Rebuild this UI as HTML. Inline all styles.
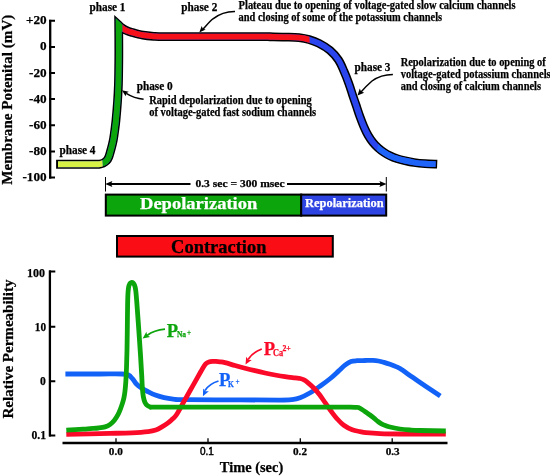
<!DOCTYPE html>
<html><head><meta charset="utf-8"><title>Cardiac action potential and ion permeability</title>
<style>
html,body{margin:0;padding:0;background:#fff;}
svg{display:block;}
text{font-family:"Liberation Serif","Times New Roman",serif;font-weight:bold;fill:#000;stroke:#000;stroke-width:0.25px;}
text.nostroke{stroke:none;}
text.sans{font-family:"Liberation Sans",Arial,sans-serif;}
</style></head>
<body>
<svg width="550" height="476" viewBox="0 0 550 476">
<defs>
  <clipPath id="cYel"><polygon points="0,150 101.6,150 103.2,172 0,172"/></clipPath>
  <clipPath id="cGrn"><polygon points="90,0 122.3,0 122.3,172 103.2,172 101.6,150"/></clipPath>
  <clipPath id="cLb"><polygon points="379,140 450,140 450,175 372,175"/></clipPath>
  <clipPath id="cRed"><polygon points="122.3,0 309.3,0 309.3,34 309.8,45 309.8,60 122.3,60"/></clipPath>
</defs>

<!-- ===== TOP CHART ===== -->
<path d="M50.2,19.8 V178.6" stroke="#000" stroke-width="2.3" fill="none"/>
<path d="M49,20.8 H55 M49,46.9 H55 M49,73 H55 M49,99.1 H55 M49,125.3 H55 M49,151.4 H55 M49,177.5 H55" stroke="#000" stroke-width="2" fill="none"/>
<g font-size="13.2" text-anchor="end">
  <text x="46.6" y="24.3">+20</text>
  <text x="46.6" y="50.4">0</text>
  <text x="46.6" y="76.5">-20</text>
  <text x="46.6" y="102.6">-40</text>
  <text x="46.6" y="128.8">-60</text>
  <text x="46.6" y="154.9">-80</text>
  <text x="46.6" y="181.0">-100</text>
</g>
<text font-size="15" transform="translate(12.3,184.7) rotate(-90)" textLength="170" lengthAdjust="spacingAndGlyphs">Membrane Potenital (mV)</text>

<!-- action potential curve -->
<path d="M56.1,164.25 L99,164.25  C99.67,164.07 101.75,163.77 103.00,163.20 C104.25,162.62 105.53,161.83 106.50,160.80 C107.47,159.77 108.12,158.63 108.80,157.00 C109.48,155.37 110.03,153.00 110.60,151.00 C111.17,149.00 111.72,147.00 112.20,145.00 C112.68,143.00 113.07,141.50 113.50,139.00 C113.93,136.50 114.38,133.17 114.80,130.00 C115.22,126.83 115.55,124.67 116.00,120.00 C116.45,115.33 117.10,107.83 117.50,102.00 C117.90,96.17 118.18,92.00 118.40,85.00 C118.62,78.00 118.73,67.50 118.80,60.00 C118.87,52.50 118.82,45.83 118.80,40.00 C118.78,34.17 118.72,27.50 118.70,25.00  C119.17,25.43 120.28,26.72 121.50,27.60 C122.72,28.48 124.25,29.50 126.00,30.30 C127.75,31.10 129.17,31.58 132.00,32.40 C134.83,33.22 139.33,34.55 143.00,35.20 C146.67,35.85 150.33,36.07 154.00,36.30 C157.67,36.53 157.33,36.55 165.00,36.60 C172.67,36.65 185.83,36.60 200.00,36.60 C214.17,36.60 238.33,36.58 250.00,36.60 C261.67,36.62 263.67,36.67 270.00,36.75 C276.33,36.83 283.17,36.89 288.00,37.05 C292.83,37.21 295.50,37.28 299.00,37.70 C302.50,38.12 305.67,38.65 309.00,39.60 C312.33,40.55 315.50,41.60 319.00,43.40 C322.50,45.20 326.75,47.63 330.00,50.40 C333.25,53.17 336.17,56.52 338.50,60.00 C340.83,63.48 342.28,67.40 344.00,71.30 C345.72,75.20 347.35,79.40 348.80,83.40 C350.25,87.40 351.47,91.62 352.70,95.30 C353.93,98.98 355.00,101.97 356.20,105.50 C357.40,109.03 358.60,112.92 359.90,116.50 C361.20,120.08 362.62,123.83 364.00,127.00 C365.38,130.17 366.70,132.92 368.20,135.50 C369.70,138.08 371.37,140.45 373.00,142.50 C374.63,144.55 376.17,146.15 378.00,147.80 C379.83,149.45 382.00,151.07 384.00,152.40 C386.00,153.73 387.83,154.77 390.00,155.80 C392.17,156.83 394.50,157.78 397.00,158.60 C399.50,159.42 402.17,160.05 405.00,160.70 C407.83,161.35 410.67,162.00 414.00,162.50 C417.33,163.00 421.13,163.42 425.00,163.70 C428.87,163.98 435.17,164.12 437.20,164.20" fill="none" stroke="#000" stroke-width="8.8" stroke-linejoin="miter" stroke-miterlimit="10"/>
<path d="M58.0,164.25 L99,164.25  C99.67,164.07 101.75,163.77 103.00,163.20 C104.25,162.62 105.53,161.83 106.50,160.80 C107.47,159.77 108.12,158.63 108.80,157.00 C109.48,155.37 110.03,153.00 110.60,151.00 C111.17,149.00 111.72,147.00 112.20,145.00 C112.68,143.00 113.07,141.50 113.50,139.00 C113.93,136.50 114.38,133.17 114.80,130.00 C115.22,126.83 115.55,124.67 116.00,120.00 C116.45,115.33 117.10,107.83 117.50,102.00 C117.90,96.17 118.18,92.00 118.40,85.00 C118.62,78.00 118.73,67.50 118.80,60.00 C118.87,52.50 118.82,45.83 118.80,40.00 C118.78,34.17 118.72,27.50 118.70,25.00  C119.17,25.43 120.28,26.72 121.50,27.60 C122.72,28.48 124.25,29.50 126.00,30.30 C127.75,31.10 129.17,31.58 132.00,32.40 C134.83,33.22 139.33,34.55 143.00,35.20 C146.67,35.85 150.33,36.07 154.00,36.30 C157.67,36.53 157.33,36.55 165.00,36.60 C172.67,36.65 185.83,36.60 200.00,36.60 C214.17,36.60 238.33,36.58 250.00,36.60 C261.67,36.62 263.67,36.67 270.00,36.75 C276.33,36.83 283.17,36.89 288.00,37.05 C292.83,37.21 295.50,37.28 299.00,37.70 C302.50,38.12 305.67,38.65 309.00,39.60 C312.33,40.55 315.50,41.60 319.00,43.40 C322.50,45.20 326.75,47.63 330.00,50.40 C333.25,53.17 336.17,56.52 338.50,60.00 C340.83,63.48 342.28,67.40 344.00,71.30 C345.72,75.20 347.35,79.40 348.80,83.40 C350.25,87.40 351.47,91.62 352.70,95.30 C353.93,98.98 355.00,101.97 356.20,105.50 C357.40,109.03 358.60,112.92 359.90,116.50 C361.20,120.08 362.62,123.83 364.00,127.00 C365.38,130.17 366.70,132.92 368.20,135.50 C369.70,138.08 371.37,140.45 373.00,142.50 C374.63,144.55 376.17,146.15 378.00,147.80 C379.83,149.45 382.00,151.07 384.00,152.40 C386.00,153.73 387.83,154.77 390.00,155.80 C392.17,156.83 394.50,157.78 397.00,158.60 C399.50,159.42 402.17,160.05 405.00,160.70 C407.83,161.35 410.67,162.00 414.00,162.50 C417.33,163.00 421.40,163.42 425.00,163.70 C428.60,163.98 433.83,164.12 435.60,164.20" fill="none" stroke-width="5.8" stroke-linejoin="miter" stroke-miterlimit="10" stroke="#2a44ee"/>
<path d="M58.0,164.25 L99,164.25  C99.67,164.07 101.75,163.77 103.00,163.20 C104.25,162.62 105.53,161.83 106.50,160.80 C107.47,159.77 108.12,158.63 108.80,157.00 C109.48,155.37 110.03,153.00 110.60,151.00 C111.17,149.00 111.72,147.00 112.20,145.00 C112.68,143.00 113.07,141.50 113.50,139.00 C113.93,136.50 114.38,133.17 114.80,130.00 C115.22,126.83 115.55,124.67 116.00,120.00 C116.45,115.33 117.10,107.83 117.50,102.00 C117.90,96.17 118.18,92.00 118.40,85.00 C118.62,78.00 118.73,67.50 118.80,60.00 C118.87,52.50 118.82,45.83 118.80,40.00 C118.78,34.17 118.72,27.50 118.70,25.00  C119.17,25.43 120.28,26.72 121.50,27.60 C122.72,28.48 124.25,29.50 126.00,30.30 C127.75,31.10 129.17,31.58 132.00,32.40 C134.83,33.22 139.33,34.55 143.00,35.20 C146.67,35.85 150.33,36.07 154.00,36.30 C157.67,36.53 157.33,36.55 165.00,36.60 C172.67,36.65 185.83,36.60 200.00,36.60 C214.17,36.60 238.33,36.58 250.00,36.60 C261.67,36.62 263.67,36.67 270.00,36.75 C276.33,36.83 283.17,36.89 288.00,37.05 C292.83,37.21 295.50,37.28 299.00,37.70 C302.50,38.12 305.67,38.65 309.00,39.60 C312.33,40.55 315.50,41.60 319.00,43.40 C322.50,45.20 326.75,47.63 330.00,50.40 C333.25,53.17 336.17,56.52 338.50,60.00 C340.83,63.48 342.28,67.40 344.00,71.30 C345.72,75.20 347.35,79.40 348.80,83.40 C350.25,87.40 351.47,91.62 352.70,95.30 C353.93,98.98 355.00,101.97 356.20,105.50 C357.40,109.03 358.60,112.92 359.90,116.50 C361.20,120.08 362.62,123.83 364.00,127.00 C365.38,130.17 366.70,132.92 368.20,135.50 C369.70,138.08 371.37,140.45 373.00,142.50 C374.63,144.55 376.17,146.15 378.00,147.80 C379.83,149.45 382.00,151.07 384.00,152.40 C386.00,153.73 387.83,154.77 390.00,155.80 C392.17,156.83 394.50,157.78 397.00,158.60 C399.50,159.42 402.17,160.05 405.00,160.70 C407.83,161.35 410.67,162.00 414.00,162.50 C417.33,163.00 421.40,163.42 425.00,163.70 C428.60,163.98 433.83,164.12 435.60,164.20" fill="none" stroke-width="5.8" stroke-linejoin="miter" stroke-miterlimit="10" stroke="#1f64f8" clip-path="url(#cLb)"/>
<path d="M58.0,164.25 L99,164.25  C99.67,164.07 101.75,163.77 103.00,163.20 C104.25,162.62 105.53,161.83 106.50,160.80 C107.47,159.77 108.12,158.63 108.80,157.00 C109.48,155.37 110.03,153.00 110.60,151.00 C111.17,149.00 111.72,147.00 112.20,145.00 C112.68,143.00 113.07,141.50 113.50,139.00 C113.93,136.50 114.38,133.17 114.80,130.00 C115.22,126.83 115.55,124.67 116.00,120.00 C116.45,115.33 117.10,107.83 117.50,102.00 C117.90,96.17 118.18,92.00 118.40,85.00 C118.62,78.00 118.73,67.50 118.80,60.00 C118.87,52.50 118.82,45.83 118.80,40.00 C118.78,34.17 118.72,27.50 118.70,25.00  C119.17,25.43 120.28,26.72 121.50,27.60 C122.72,28.48 124.25,29.50 126.00,30.30 C127.75,31.10 129.17,31.58 132.00,32.40 C134.83,33.22 139.33,34.55 143.00,35.20 C146.67,35.85 150.33,36.07 154.00,36.30 C157.67,36.53 157.33,36.55 165.00,36.60 C172.67,36.65 185.83,36.60 200.00,36.60 C214.17,36.60 238.33,36.58 250.00,36.60 C261.67,36.62 263.67,36.67 270.00,36.75 C276.33,36.83 283.17,36.89 288.00,37.05 C292.83,37.21 295.50,37.28 299.00,37.70 C302.50,38.12 305.67,38.65 309.00,39.60 C312.33,40.55 315.50,41.60 319.00,43.40 C322.50,45.20 326.75,47.63 330.00,50.40 C333.25,53.17 336.17,56.52 338.50,60.00 C340.83,63.48 342.28,67.40 344.00,71.30 C345.72,75.20 347.35,79.40 348.80,83.40 C350.25,87.40 351.47,91.62 352.70,95.30 C353.93,98.98 355.00,101.97 356.20,105.50 C357.40,109.03 358.60,112.92 359.90,116.50 C361.20,120.08 362.62,123.83 364.00,127.00 C365.38,130.17 366.70,132.92 368.20,135.50 C369.70,138.08 371.37,140.45 373.00,142.50 C374.63,144.55 376.17,146.15 378.00,147.80 C379.83,149.45 382.00,151.07 384.00,152.40 C386.00,153.73 387.83,154.77 390.00,155.80 C392.17,156.83 394.50,157.78 397.00,158.60 C399.50,159.42 402.17,160.05 405.00,160.70 C407.83,161.35 410.67,162.00 414.00,162.50 C417.33,163.00 421.40,163.42 425.00,163.70 C428.60,163.98 433.83,164.12 435.60,164.20" fill="none" stroke-width="5.8" stroke-linejoin="miter" stroke-miterlimit="10" stroke="#f5101a" clip-path="url(#cRed)"/>
<path d="M58.0,164.25 L99,164.25  C99.67,164.07 101.75,163.77 103.00,163.20 C104.25,162.62 105.53,161.83 106.50,160.80 C107.47,159.77 108.12,158.63 108.80,157.00 C109.48,155.37 110.03,153.00 110.60,151.00 C111.17,149.00 111.72,147.00 112.20,145.00 C112.68,143.00 113.07,141.50 113.50,139.00 C113.93,136.50 114.38,133.17 114.80,130.00 C115.22,126.83 115.55,124.67 116.00,120.00 C116.45,115.33 117.10,107.83 117.50,102.00 C117.90,96.17 118.18,92.00 118.40,85.00 C118.62,78.00 118.73,67.50 118.80,60.00 C118.87,52.50 118.82,45.83 118.80,40.00 C118.78,34.17 118.72,27.50 118.70,25.00  C119.17,25.43 120.28,26.72 121.50,27.60 C122.72,28.48 124.25,29.50 126.00,30.30 C127.75,31.10 129.17,31.58 132.00,32.40 C134.83,33.22 139.33,34.55 143.00,35.20 C146.67,35.85 150.33,36.07 154.00,36.30 C157.67,36.53 157.33,36.55 165.00,36.60 C172.67,36.65 185.83,36.60 200.00,36.60 C214.17,36.60 238.33,36.58 250.00,36.60 C261.67,36.62 263.67,36.67 270.00,36.75 C276.33,36.83 283.17,36.89 288.00,37.05 C292.83,37.21 295.50,37.28 299.00,37.70 C302.50,38.12 305.67,38.65 309.00,39.60 C312.33,40.55 315.50,41.60 319.00,43.40 C322.50,45.20 326.75,47.63 330.00,50.40 C333.25,53.17 336.17,56.52 338.50,60.00 C340.83,63.48 342.28,67.40 344.00,71.30 C345.72,75.20 347.35,79.40 348.80,83.40 C350.25,87.40 351.47,91.62 352.70,95.30 C353.93,98.98 355.00,101.97 356.20,105.50 C357.40,109.03 358.60,112.92 359.90,116.50 C361.20,120.08 362.62,123.83 364.00,127.00 C365.38,130.17 366.70,132.92 368.20,135.50 C369.70,138.08 371.37,140.45 373.00,142.50 C374.63,144.55 376.17,146.15 378.00,147.80 C379.83,149.45 382.00,151.07 384.00,152.40 C386.00,153.73 387.83,154.77 390.00,155.80 C392.17,156.83 394.50,157.78 397.00,158.60 C399.50,159.42 402.17,160.05 405.00,160.70 C407.83,161.35 410.67,162.00 414.00,162.50 C417.33,163.00 421.40,163.42 425.00,163.70 C428.60,163.98 433.83,164.12 435.60,164.20" fill="none" stroke-width="5.8" stroke-linejoin="miter" stroke-miterlimit="10" stroke="#0ca50c" clip-path="url(#cGrn)"/>
<path d="M58.0,164.25 L99,164.25  C99.67,164.07 101.75,163.77 103.00,163.20 C104.25,162.62 105.53,161.83 106.50,160.80 C107.47,159.77 108.12,158.63 108.80,157.00 C109.48,155.37 110.03,153.00 110.60,151.00 C111.17,149.00 111.72,147.00 112.20,145.00 C112.68,143.00 113.07,141.50 113.50,139.00 C113.93,136.50 114.38,133.17 114.80,130.00 C115.22,126.83 115.55,124.67 116.00,120.00 C116.45,115.33 117.10,107.83 117.50,102.00 C117.90,96.17 118.18,92.00 118.40,85.00 C118.62,78.00 118.73,67.50 118.80,60.00 C118.87,52.50 118.82,45.83 118.80,40.00 C118.78,34.17 118.72,27.50 118.70,25.00  C119.17,25.43 120.28,26.72 121.50,27.60 C122.72,28.48 124.25,29.50 126.00,30.30 C127.75,31.10 129.17,31.58 132.00,32.40 C134.83,33.22 139.33,34.55 143.00,35.20 C146.67,35.85 150.33,36.07 154.00,36.30 C157.67,36.53 157.33,36.55 165.00,36.60 C172.67,36.65 185.83,36.60 200.00,36.60 C214.17,36.60 238.33,36.58 250.00,36.60 C261.67,36.62 263.67,36.67 270.00,36.75 C276.33,36.83 283.17,36.89 288.00,37.05 C292.83,37.21 295.50,37.28 299.00,37.70 C302.50,38.12 305.67,38.65 309.00,39.60 C312.33,40.55 315.50,41.60 319.00,43.40 C322.50,45.20 326.75,47.63 330.00,50.40 C333.25,53.17 336.17,56.52 338.50,60.00 C340.83,63.48 342.28,67.40 344.00,71.30 C345.72,75.20 347.35,79.40 348.80,83.40 C350.25,87.40 351.47,91.62 352.70,95.30 C353.93,98.98 355.00,101.97 356.20,105.50 C357.40,109.03 358.60,112.92 359.90,116.50 C361.20,120.08 362.62,123.83 364.00,127.00 C365.38,130.17 366.70,132.92 368.20,135.50 C369.70,138.08 371.37,140.45 373.00,142.50 C374.63,144.55 376.17,146.15 378.00,147.80 C379.83,149.45 382.00,151.07 384.00,152.40 C386.00,153.73 387.83,154.77 390.00,155.80 C392.17,156.83 394.50,157.78 397.00,158.60 C399.50,159.42 402.17,160.05 405.00,160.70 C407.83,161.35 410.67,162.00 414.00,162.50 C417.33,163.00 421.40,163.42 425.00,163.70 C428.60,163.98 433.83,164.12 435.60,164.20" fill="none" stroke-width="5.8" stroke-linejoin="miter" stroke-miterlimit="10" stroke="#d8f245" clip-path="url(#cYel)"/>

<!-- phase labels -->
<g font-size="11.8">
  <text x="89.5" y="11.2" textLength="36" lengthAdjust="spacingAndGlyphs">phase 1</text>
  <text x="181.3" y="11" textLength="36" lengthAdjust="spacingAndGlyphs">phase 2</text>
  <text x="136.7" y="89.6" textLength="36" lengthAdjust="spacingAndGlyphs">phase 0</text>
  <text x="354.5" y="70.9" textLength="36" lengthAdjust="spacingAndGlyphs">phase 3</text>
  <text x="59.5" y="154.2" textLength="36" lengthAdjust="spacingAndGlyphs">phase 4</text>
</g>
<g font-size="11.6">
  <text x="238.6" y="8.7" textLength="277" lengthAdjust="spacingAndGlyphs">Plateau due to opening of voltage-gated slow calcium channels</text>
  <text x="238.6" y="20.7" textLength="203.5" lengthAdjust="spacingAndGlyphs">and closing of some of the potassium channels</text>
  <text x="149.2" y="103.5" textLength="162.5" lengthAdjust="spacingAndGlyphs">Rapid depolarization due to opening</text>
  <text x="149.2" y="115.5" textLength="167" lengthAdjust="spacingAndGlyphs">of voltage-gated fast sodium channels</text>
  <text x="400.7" y="65.6" textLength="145" lengthAdjust="spacingAndGlyphs">Repolarization due to opening of</text>
  <text x="400.7" y="77.9" textLength="150" lengthAdjust="spacingAndGlyphs">voltage-gated potassium channels</text>
  <text x="400.7" y="90.1" textLength="140.4" lengthAdjust="spacingAndGlyphs">and closing of calcium channels</text>
</g>
<!-- annotation arrows -->
<g fill="none" stroke="#000" stroke-width="1.5">
  <path d="M235,11.4 C226,11.3 219,14 213,18.8 C209,22.2 205.5,26.5 202.3,29.8"/>
  <path d="M143.6,99.2 C137.5,98.6 131.5,96.6 126.2,93.3"/>
  <path d="M392.9,74.4 C385,74.4 378,76.5 372,81 C368,84.5 364.3,88.2 360.8,92.2"/>
</g>
<g fill="#000">
  <polygon points="199.30,32.60 201.69,25.98 202.87,28.69 205.68,29.62"/>
  <polygon points="121.90,90.20 128.77,91.74 126.23,93.26 125.65,96.15"/>
  <polygon points="357.50,95.40 359.74,88.56 361.16,91.56 364.23,92.83"/>
</g>

<!-- duration arrow -->
<path d="M105.5,177 V191.5 M386.3,177 V191.5" stroke="#000" stroke-width="1" fill="none"/>
<path d="M108,183.9 H190.5 M287,183.9 H383" stroke="#000" stroke-width="2" fill="none"/>
<g fill="#000">
  <polygon points="105.20,183.90 112.40,180.90 111.10,183.90 112.40,186.90"/>
  <polygon points="386.60,183.90 379.40,186.90 380.70,183.90 379.40,180.90"/>
</g>
<text x="195.4" y="187.2" font-size="11" textLength="89.2" lengthAdjust="spacingAndGlyphs">0.3 sec = 300 msec</text>

<!-- depolarization / repolarization bar -->
<rect x="105.8" y="194.6" width="195.4" height="21" fill="#0ca50c" stroke="#000" stroke-width="2"/>
<rect x="301.2" y="194.6" width="85" height="21" fill="#2e44e2" stroke="#000" stroke-width="2"/>
<text x="140" y="209.3" font-size="17.5" style="fill:#fff;stroke:#fff" textLength="117.3" lengthAdjust="spacingAndGlyphs">Depolarization</text>
<text x="305.1" y="207.4" font-size="12.4" style="fill:#fff;stroke:#fff" textLength="78.5" lengthAdjust="spacingAndGlyphs">Repolarization</text>

<!-- contraction bar -->
<rect x="117" y="236" width="215.8" height="20.6" fill="#fa0d14" stroke="#000" stroke-width="2"/>
<text x="171.1" y="252.5" font-size="17.8" style="fill:#050000;stroke:#050000" textLength="95.3" lengthAdjust="spacingAndGlyphs">Contraction</text>

<!-- ===== BOTTOM CHART ===== -->
<path d="M49.9,270.4 V436.5" stroke="#000" stroke-width="2.3" fill="none"/>
<path d="M49,271.4 H55.3 M49,326.7 H55.3 M49,381.3 H55.3 M49,435.6 H55.3" stroke="#000" stroke-width="2" fill="none"/>
<path d="M62.5,443 H447.5" stroke="#000" stroke-width="2.3" fill="none"/>
<path d="M116,438.2 V443 M208,438.2 V443 M300.3,438.2 V443 M392.2,438.2 V443" stroke="#000" stroke-width="1.3" fill="none"/>
<g font-size="13">
  <text x="26.9" y="276.5" textLength="18" lengthAdjust="spacingAndGlyphs">100</text>
  <text x="34.8" y="330.5" textLength="11.3" lengthAdjust="spacingAndGlyphs">10</text>
  <text x="40" y="385.1" textLength="5.8" lengthAdjust="spacingAndGlyphs">0</text>
  <text x="31.5" y="438.9" textLength="14.6" lengthAdjust="spacingAndGlyphs">0.1</text>
</g>
<text font-size="15" transform="translate(12.6,418.5) rotate(-90)" textLength="139" lengthAdjust="spacingAndGlyphs">Relative Permeability</text>
<g font-size="11.2" text-anchor="middle">
  <text x="115.8" y="455.2">0.0</text>
  <text class="sans" x="206.9" y="454.7" style="font-weight:normal;stroke-width:0.45px" font-size="10">0.1</text>
  <text x="300" y="454.7">0.2</text>
  <text x="392.7" y="454.7">0.3</text>
</g>
<text x="219.8" y="472" font-size="14.4" textLength="63.4" lengthAdjust="spacingAndGlyphs">Time (sec)</text>

<!-- permeability curves -->
<g fill="none" stroke-width="4.8" stroke-linejoin="round" stroke-linecap="butt">
  <path stroke="#1262f8" d="M65.40,374.00 C71.17,374.00 90.57,374.00 100.00,374.00 C109.43,374.00 117.25,373.83 122.00,374.00 C126.75,374.17 126.73,374.18 128.50,375.00 C130.27,375.82 131.28,377.40 132.60,378.90 C133.92,380.40 134.93,382.50 136.40,384.00 C137.87,385.50 139.52,386.65 141.40,387.90 C143.28,389.15 145.38,390.30 147.70,391.50 C150.02,392.70 152.57,394.07 155.30,395.10 C158.03,396.13 161.15,397.03 164.10,397.70 C167.05,398.37 169.52,398.77 173.00,399.10 C176.48,399.43 173.83,399.57 185.00,399.70 C196.17,399.83 224.17,399.83 240.00,399.90 C255.83,399.97 271.33,400.15 280.00,400.10 C288.67,400.05 288.65,399.98 292.00,399.60 C295.35,399.22 297.07,398.93 300.10,397.80 C303.13,396.67 306.83,394.77 310.20,392.80 C313.57,390.83 316.95,388.38 320.30,386.00 C323.65,383.62 327.23,381.02 330.30,378.50 C333.37,375.98 336.25,373.12 338.70,370.90 C341.15,368.68 342.95,366.75 345.00,365.20 C347.05,363.65 349.00,362.35 351.00,361.60 C353.00,360.85 354.67,360.88 357.00,360.70 C359.33,360.52 362.33,360.55 365.00,360.50 C367.67,360.45 370.75,360.32 373.00,360.40 C375.25,360.48 376.67,360.67 378.50,361.00 C380.33,361.33 382.08,361.85 384.00,362.40 C385.92,362.95 388.00,363.60 390.00,364.30 C392.00,365.00 394.33,365.88 396.00,366.60 C397.67,367.32 397.17,366.77 400.00,368.60 C402.83,370.43 408.67,374.63 413.00,377.60 C417.33,380.57 421.45,383.32 426.00,386.40 C430.55,389.48 437.92,394.48 440.30,396.10"/>
  <path stroke="#fa0a28" d="M66.30,434.30 C73.58,434.15 99.08,433.65 110.00,433.40 C120.92,433.15 125.43,433.10 131.80,432.80 C138.17,432.50 144.20,432.07 148.20,431.60 C152.20,431.13 153.45,430.82 155.80,430.00 C158.15,429.18 160.43,427.77 162.30,426.70 C164.17,425.63 165.47,424.73 167.00,423.60 C168.53,422.47 169.95,421.33 171.50,419.90 C173.05,418.47 174.30,417.93 176.30,415.00 C178.30,412.07 181.22,406.33 183.50,402.30 C185.78,398.27 187.75,394.78 190.00,390.80 C192.25,386.82 195.17,381.65 197.00,378.40 C198.83,375.15 199.92,373.20 201.00,371.30 C202.08,369.40 202.70,368.25 203.50,367.00 C204.30,365.75 204.90,364.63 205.80,363.80 C206.70,362.97 207.75,362.40 208.90,362.00 C210.05,361.60 211.52,361.50 212.70,361.40 C213.88,361.30 214.78,361.33 216.00,361.40 C217.22,361.47 218.50,361.58 220.00,361.80 C221.50,362.02 222.50,362.08 225.00,362.70 C227.50,363.32 231.67,364.58 235.00,365.50 C238.33,366.42 241.67,367.33 245.00,368.20 C248.33,369.07 251.67,369.90 255.00,370.70 C258.33,371.50 261.67,372.28 265.00,373.00 C268.33,373.72 271.67,374.38 275.00,375.00 C278.33,375.62 281.67,376.22 285.00,376.70 C288.33,377.18 292.48,377.60 295.00,377.90 C297.52,378.20 298.60,378.18 300.10,378.50 C301.60,378.82 302.77,379.17 304.00,379.80 C305.23,380.43 305.92,380.98 307.50,382.30 C309.08,383.62 311.52,385.67 313.50,387.70 C315.48,389.73 317.43,391.97 319.40,394.50 C321.37,397.03 323.33,400.10 325.30,402.90 C327.27,405.70 329.23,408.65 331.20,411.30 C333.17,413.95 335.00,416.47 337.10,418.80 C339.20,421.13 341.28,423.47 343.80,425.30 C346.32,427.13 349.50,428.75 352.20,429.80 C354.90,430.85 357.70,431.13 360.00,431.60 C362.30,432.07 362.67,432.27 366.00,432.60 C369.33,432.93 374.33,433.37 380.00,433.60 C385.67,433.83 389.03,433.93 400.00,434.00 C410.97,434.07 438.17,434.00 445.80,434.00"/>
  <path stroke="#0ca50c" d="M66.30,430.20 C69.13,430.03 79.35,429.47 83.30,429.20 C87.25,428.93 87.48,428.80 90.00,428.60 C92.52,428.40 95.88,428.28 98.40,428.00 C100.92,427.72 103.13,427.50 105.10,426.90 C107.07,426.30 108.65,425.52 110.20,424.40 C111.75,423.28 113.15,421.73 114.40,420.20 C115.65,418.67 116.72,417.02 117.70,415.20 C118.68,413.38 119.52,411.27 120.30,409.30 C121.08,407.33 121.78,405.37 122.40,403.40 C123.02,401.43 123.57,399.57 124.00,397.50 C124.43,395.43 124.70,393.58 125.00,391.00 C125.30,388.42 125.55,385.83 125.80,382.00 C126.05,378.17 126.30,373.33 126.50,368.00 C126.70,362.67 126.87,356.33 127.00,350.00 C127.13,343.67 127.20,337.50 127.30,330.00 C127.40,322.50 127.48,311.17 127.60,305.00 C127.72,298.83 127.77,296.25 128.00,293.00 C128.23,289.75 128.37,287.27 129.00,285.50 C129.63,283.73 130.88,282.48 131.80,282.40 C132.72,282.32 133.83,283.57 134.50,285.00 C135.17,286.43 135.38,287.67 135.80,291.00 C136.22,294.33 136.50,298.50 137.00,305.00 C137.50,311.50 138.22,321.67 138.80,330.00 C139.38,338.33 140.02,347.50 140.50,355.00 C140.98,362.50 141.40,369.67 141.70,375.00 C142.00,380.33 142.03,383.42 142.30,387.00 C142.57,390.58 142.85,393.92 143.30,396.50 C143.75,399.08 144.30,400.98 145.00,402.50 C145.70,404.02 146.43,404.83 147.50,405.60 C148.57,406.37 149.32,406.83 151.40,407.10 C153.48,407.37 143.57,407.18 160.00,407.20 C176.43,407.22 221.67,407.20 250.00,407.20 C278.33,407.20 313.33,407.20 330.00,407.20 C346.67,407.20 345.75,407.18 350.00,407.20 C354.25,407.22 354.08,407.23 355.50,407.30 C356.92,407.37 357.42,407.23 358.50,407.60 C359.58,407.97 360.75,408.73 362.00,409.50 C363.25,410.27 364.67,411.28 366.00,412.20 C367.33,413.12 368.67,414.00 370.00,415.00 C371.33,416.00 372.67,417.12 374.00,418.20 C375.33,419.28 376.75,420.57 378.00,421.50 C379.25,422.43 380.17,423.08 381.50,423.80 C382.83,424.52 384.58,425.27 386.00,425.80 C387.42,426.33 387.67,426.47 390.00,427.00 C392.33,427.53 396.67,428.50 400.00,429.00 C403.33,429.50 406.67,429.75 410.00,430.00 C413.33,430.25 414.03,430.33 420.00,430.50 C425.97,430.67 441.50,430.92 445.80,431.00"/>
</g>

<!-- curve labels -->
<g fill="none" stroke-width="1.8">
  <path d="M165,329.2 C157,330 151,332.5 147,335.5" stroke="#0ca50c"/>
  <path d="M261.8,349 C255,351.5 250.5,355.5 248,359.5" stroke="#fa0a28"/>
  <path d="M218.5,381 C212,383 207.5,386.5 205,390.5" stroke="#1262f8"/>
</g>
<polygon points="142.60,338.40 146.42,331.72 147.07,335.19 150.15,336.91" fill="#0ca50c"/>
<polygon points="245.50,364.50 246.19,356.83 248.23,359.72 251.75,360.01" fill="#fa0a28"/>
<polygon points="202.90,396.20 203.17,388.51 205.36,391.28 208.89,391.37" fill="#1262f8"/>

<g font-size="18.5">
<text x="166.7" y="336.6" style="fill:#0ca50c;stroke:#0ca50c">P</text>
<text x="263.8" y="355" style="fill:#fa0a28;stroke:#fa0a28">P</text>
<text x="219" y="386.3" style="fill:#1262f8;stroke:#1262f8">P</text>
</g>
<text x="176.9" y="337.1" font-size="9" style="fill:#0ca50c;stroke:#0ca50c" textLength="9.2" lengthAdjust="spacingAndGlyphs">Na</text>
<text x="187" y="334.8" font-size="7.2" style="fill:#0ca50c;stroke:#0ca50c;font-weight:normal">+</text>
<text x="272.9" y="356.2" font-size="9.3" style="fill:#fa0a28;stroke:#fa0a28" textLength="10.2" lengthAdjust="spacingAndGlyphs">Ca</text>
<text x="282.4" y="351.1" font-size="8" style="fill:#fa0a28;stroke:#fa0a28" textLength="8.3" lengthAdjust="spacingAndGlyphs">2+</text>
<text x="227.9" y="386.6" font-size="9" style="fill:#1262f8;stroke:#1262f8" textLength="5.8" lengthAdjust="spacingAndGlyphs">K</text>
<text x="235.4" y="384.2" font-size="7.2" style="fill:#1262f8;stroke:#1262f8;font-weight:normal">+</text>
</svg>
</body></html>
